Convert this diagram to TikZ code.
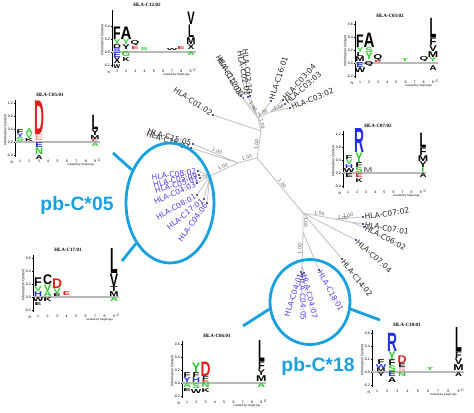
\documentclass[tikz,border=0pt]{standalone}
\usepackage{fontspec}
\setmainfont{Liberation Serif}
\setsansfont{Liberation Sans}
\newfontfamily\treefont{DejaVu Sans}
\usepackage{tikz}
\usetikzlibrary{shapes.geometric}

\definecolor{pbblue}{RGB}{25,160,225}
\definecolor{branchgray}{RGB}{195,195,195}
\definecolor{leafblue}{RGB}{85,60,230}
\definecolor{dotnavy}{RGB}{25,25,110}
\definecolor{logored}{RGB}{225,30,30}
\definecolor{loggreen}{RGB}{40,205,40}
\definecolor{logoblue}{RGB}{35,45,225}

\tikzset{
  branch/.style={draw=branchgray, line width=0.5pt},
  tip/.style={circle, fill=dotnavy, inner sep=0pt, minimum size=1.4pt},
  leaf/.style={font=\treefont\fontsize{4.3}{5}\selectfont, text=black!85, inner sep=0.8pt},
  leafb/.style={leaf, text=leafblue},
  bl/.style={font=\treefont\fontsize{2.6}{3}\selectfont, text=black!65, inner sep=0.3pt, sloped, above},
  group/.style={draw=pbblue, line width=1.6pt},
  grouplab/.style={font=\sffamily\bfseries\fontsize{11}{13}\selectfont, text=pbblue},
  lt/.style={inner sep=0pt, anchor=south, font=\sffamily\bfseries\fontsize{10}{10}\selectfont},
  logotitle/.style={font=\rmfamily\bfseries\fontsize{2.8}{3}\selectfont},
  ticklab/.style={font=\sffamily\fontsize{2}{2}\selectfont, inner sep=0.4pt},
  logoaxis/.style={line width=0.25pt},
}

\newcounter{glyphno}
% name, axis x, zero y, column step, title, ticks from the bottom
\newcommand{\logoframe}[6]{%
  \node[logotitle] (#1title) at ({#2+35},{#3-47}) {#5};
  \draw[logoaxis] (#2,{#3-42}) -- (#2,{#3+15});
  \foreach \t [count=\i] in {#6}
    \draw[logoaxis] (#2,{#3+13-13*(\i-1)}) -- ++(-1.2,0) node[ticklab, anchor=east] (#1y\i) {\t};
  \node[ticklab, rotate=90] (#1ylab) at ({#2-10},{#3-12}) {Information Content};
  \foreach \k in {1,...,9}
    \node[ticklab] (#1k\k) at ({#2+5+#4*(\k-1)},{#3+19}) {\k};
  \node[ticklab] (#1n) at ({#2-3},{#3+20}) {N};
  \node[ticklab] (#1c) at ({#2+9+#4*8},{#3+18}) {C};
  \node[ticklab, font=\sffamily\fontsize{1.6}{2}\selectfont] (#1by) at ({#2+#4*7},{#3+23}) {created by Seq2Logo};
  \draw[gray!55, line width=0.7pt] (#2,#3) -- ({#2+10+#4*8},#3);
}
% x, base y, height, width, colour, letter
\newcommand{\glyph}[6]{%
  \stepcounter{glyphno}%
  \pgfmathsetmacro\gh{#3/12.6}\pgfmathsetmacro\gw{#4/12.7}%
  \node[lt, text=#5] (g\arabic{glyphno}) at (#1,#2) {\scalebox{\gw}[\gh]{#6}};%
}

\begin{document}
\begin{tikzpicture}[x=0.02cm, y=-0.02cm]
\useasboundingbox (0,0) rectangle (474,413);

% logos
\logoframe{lgA}{112}{52}{9.2}{HLA-C12:02}{-0.2,0.0,0.2,0.4}
\glyph{117}{40}{13}{9}{black}{F}
\glyph{117}{45}{5}{7}{loggreen}{Y}
\glyph{117}{49}{4}{8}{black}{D}
\glyph{117}{52}{3}{8}{logoblue}{S}
\glyph{117}{58}{5}{8}{logoblue}{E}
\glyph{117}{64}{6}{7}{black}{X}
\glyph{117}{69}{4}{5}{black}{W}
\glyph{126}{40}{13}{11}{black}{A}
\glyph{126}{45}{5}{7}{loggreen}{Y}
\glyph{126}{50}{5}{8}{black}{Y}
\glyph{126}{57}{5}{8}{loggreen}{G}
\glyph{126}{62}{4}{7}{black}{K}
\glyph{135}{46}{4}{8}{black}{Q}
\glyph{135}{50}{3}{8}{logored}{E}
\glyph{144}{51}{3}{8}{loggreen}{S}
\glyph{172}{51}{2}{8}{black}{W}
\glyph{181}{50}{3}{8}{logored}{E}
\glyph{191}{25}{13}{8}{black}{V}
\glyph{191}{38}{13}{7}{black}{L}
\glyph{191}{45}{7}{8}{black}{M}
\glyph{191}{50}{5}{7}{black}{X}
\glyph{191}{56}{4}{7}{loggreen}{A}

\logoframe{lgB}{355}{63}{9.1}{HLA-C03:02}{-0.2,0.0,0.2,0.4,0.6}
\glyph{360}{48}{13}{9}{black}{F}
\glyph{360}{53}{5}{7}{loggreen}{Y}
\glyph{360}{57}{4}{8}{black}{L}
\glyph{360}{62}{5}{8}{black}{M}
\glyph{360}{68}{5}{8}{logoblue}{E}
\glyph{360}{73}{5}{8}{black}{W}
\glyph{369}{48}{15}{11}{black}{A}
\glyph{369}{53}{5}{8}{loggreen}{S}
\glyph{369}{60}{7}{8}{loggreen}{Y}
\glyph{369}{67}{4}{8}{black}{Q}
\glyph{378}{61}{5}{8}{black}{Q}
\glyph{378}{63}{2}{8}{logored}{E}
\glyph{405}{62}{3}{8}{loggreen}{T}
\glyph{424}{62}{4}{8}{black}{Q}
\glyph{433}{38}{20}{8}{black}{L}
\glyph{433}{46}{8}{8}{black}{F}
\glyph{433}{52}{6}{8}{black}{V}
\glyph{433}{58}{6}{9}{black}{M}
\glyph{433}{62}{4}{8}{loggreen}{Y}
\glyph{433}{71}{5}{7}{black}{A}

\logoframe{lgC}{15}{142}{9.4}{HLA-C05:01}{-0.4,0.0,0.4,0.8,1.2}
\glyph{39}{135}{35}{10}{logored}{D}
\glyph{39}{141}{6}{9}{logored!45}{E}
\glyph{39}{148}{5}{8}{logoblue}{E}
\glyph{39}{155}{7}{8}{loggreen}{N}
\glyph{39}{160}{4}{7}{black}{A}
\glyph{20}{134}{4}{8}{black}{F}
\glyph{20}{138}{4}{7}{logoblue}{Y}
\glyph{20}{142}{4}{8}{loggreen}{S}
\glyph{29}{134}{5}{7}{loggreen}{A}
\glyph{29}{139}{5}{7}{loggreen}{V}
\glyph{29}{142}{3}{8}{black}{K}
\glyph{95}{130}{15}{8}{black}{L}
\glyph{95}{136}{6}{8}{black}{Y}
\glyph{95}{140}{4}{8}{black}{M}
\glyph{95}{142}{2}{8}{logored}{F}
\glyph{95}{147}{4}{7}{loggreen}{A}

\logoframe{lgD}{343}{173}{9.1}{HLA-C07:02}{-0.4,0.0,0.4,0.8,1.2}
\glyph{359}{153}{25}{10}{logoblue}{R}
\glyph{359}{163}{10}{8}{loggreen}{Y}
\glyph{359}{168}{5}{8}{black}{F}
\glyph{359}{173}{5}{8}{loggreen}{S}
\glyph{359}{178}{4}{8}{logored}{E}
\glyph{359}{183}{4}{7}{black}{K}
\glyph{349}{160}{4}{8}{black}{F}
\glyph{349}{165}{5}{7}{loggreen}{V}
\glyph{349}{169}{4}{8}{logoblue}{H}
\glyph{349}{173}{4}{8}{black}{W}
\glyph{349}{178}{4}{8}{black}{E}
\glyph{368}{173}{5}{8}{gray}{M}
\glyph{423}{148}{15}{8}{black}{L}
\glyph{423}{156}{8}{8}{black}{F}
\glyph{423}{162}{6}{9}{black}{M}
\glyph{423}{168}{6}{8}{black}{Y}
\glyph{423}{173}{5}{8}{loggreen}{I}
\glyph{423}{178}{4}{7}{black}{A}

\logoframe{lgE}{33}{297}{9.5}{HLA-C17:01}{-0.2,0.0,0.2,0.4,0.6}
\glyph{38}{287}{9}{9}{black}{F}
\glyph{38}{292}{5}{8}{loggreen}{V}
\glyph{38}{297}{5}{8}{logoblue}{H}
\glyph{38}{302}{4}{8}{black}{W}
\glyph{38}{306}{3}{7}{black}{E}
\glyph{47.5}{285}{10}{9}{black}{C}
\glyph{47.5}{292}{7}{8}{loggreen}{V}
\glyph{47.5}{297}{5}{8}{loggreen}{A}
\glyph{47.5}{302}{4}{8}{black}{K}
\glyph{57}{289}{10}{10}{logored}{D}
\glyph{57}{294}{5}{8}{loggreen}{V}
\glyph{57}{297}{3}{8}{black}{E}
\glyph{66.5}{296}{4}{8}{logored}{E}
\glyph{114}{274}{26}{9}{black}{L}
\glyph{114}{287}{13}{9}{black}{V}
\glyph{114}{292}{5}{9}{black}{T}
\glyph{114}{297}{5}{8}{black}{M}
\glyph{114}{302}{4}{8}{loggreen}{A}

\logoframe{lgF}{182}{383}{9.3}{HLA-C06:01}{-0.2,0.0,0.2,0.4,0.6}
\glyph{196}{373}{10}{9}{loggreen}{Y}
\glyph{196}{378}{5}{8}{black}{F}
\glyph{196}{383}{5}{8}{logoblue}{H}
\glyph{196}{389}{5}{8}{loggreen}{S}
\glyph{196}{394}{4}{8}{black}{W}
\glyph{205.6}{377}{15}{10}{logored}{D}
\glyph{205.6}{381}{4}{8}{black}{F}
\glyph{205.6}{383}{2}{8}{logored}{E}
\glyph{205.6}{388}{5}{8}{loggreen}{N}
\glyph{205.6}{393}{4}{8}{black}{K}
\glyph{187}{378}{5}{8}{black}{F}
\glyph{187}{383}{5}{8}{logoblue}{Y}
\glyph{187}{388}{4}{8}{loggreen}{A}
\glyph{187}{392}{3}{8}{black}{E}
\glyph{261.4}{362}{22}{8}{black}{L}
\glyph{261.4}{370}{8}{8}{black}{F}
\glyph{261.4}{376}{6}{8}{black}{Y}
\glyph{261.4}{382}{6}{9}{black}{M}
\glyph{261.4}{388}{4}{8}{loggreen}{A}

\logoframe{lgG}{372}{372}{10.2}{HLA-C18:01}{-0.2,0.0,0.2,0.4,0.6}
\glyph{392}{352}{19}{10}{logoblue}{R}
\glyph{392}{360}{8}{8}{loggreen}{Y}
\glyph{392}{366}{6}{8}{black}{F}
\glyph{392}{372}{6}{8}{loggreen}{S}
\glyph{392}{377}{5}{8}{logoblue}{E}
\glyph{392}{383}{5}{8}{black}{A}
\glyph{402}{364}{8}{9}{logored}{D}
\glyph{402}{368}{4}{8}{black}{E}
\glyph{402}{372}{4}{8}{logored!50}{S}
\glyph{402}{377}{4}{8}{loggreen}{N}
\glyph{381}{365}{5}{8}{black}{F}
\glyph{381}{369}{4}{8}{logoblue}{W}
\glyph{381}{372}{3}{8}{black}{M}
\glyph{381}{377}{4}{7}{black}{Y}
\glyph{430}{371}{3}{8}{loggreen}{T}
\glyph{458.5}{352}{25}{8}{black}{L}
\glyph{458.5}{359}{7}{8}{black}{F}
\glyph{458.5}{365}{6}{8}{black}{V}
\glyph{458.5}{371}{6}{9}{black}{M}
\glyph{458.5}{377}{4}{7}{black}{A}

% tree: inner points
\coordinate (A) at (257,158);
\coordinate (U1) at (261,131);
\coordinate (U2) at (258,118);
\coordinate (U3) at (270,112);
\coordinate (L1) at (238,163);
\coordinate (L2) at (210,176);
\coordinate (R1) at (303,213);
\coordinate (R2) at (335,219);
\coordinate (R3) at (350,222);
\coordinate (R5) at (303,232);
\coordinate (R4) at (302,266);

% tree: tips
\node[tip] (C0102) at (213,115) {};
\node[tip] (C1202) at (243,98) {};
\node[tip] (C1203) at (241,96) {};
\node[tip] (C0202) at (248,97) {};
\node[tip] (C0210) at (250,96) {};
\node[tip] (C1601) at (271,101) {};
\node[tip] (C0304) at (283,100) {};
\node[tip] (C0303) at (285,104) {};
\node[tip] (C0302) at (290,108) {};
\node[tip] (C1505) at (193,144) {};
\node[tip] (C1502) at (191,148) {};
\node[tip] (C0802) at (198,171) {};
\node[tip] (C0509) at (199,175) {};
\node[tip] (C0501) at (200,178) {};
\node[tip] (C0403) at (197,183) {};
\node[tip] (C0801) at (197,195) {};
\node[tip] (C1701) at (204,199) {};
\node[tip] (C0406) at (207,203) {};
\node[tip] (C0702) at (363,217) {};
\node[tip] (C0701) at (363,224) {};
\node[tip] (C0602) at (364,227) {};
\node[tip] (C0704) at (356,240) {};
\node[tip] (C1402) at (342,259) {};
\node[tip] (C1801) at (319,270) {};
\node[tip] (C0401) at (301,272) {};
\node[tip] (C0405) at (302,274) {};
\node[tip] (C0407) at (304,273) {};

% tree: branches
\draw[branch] (A) -- node[bl]{1.00} (U1) -- node[bl]{1.00} (U2);
\draw[branch] (U1) -- (C0102);
\draw[branch] (U2) -- node[bl]{1.00} (C1202) (U2) -- (C1203) (U2) -- (C0202) (U2) -- (C0210) (U2) -- (C1601);
\draw[branch] (U2) -- node[bl]{1.00} (U3) -- (C0304) (U3) -- (C0303) (U3) -- node[bl]{1.00} (C0302);
\draw[branch] (A) -- node[bl]{1.00} (L1) -- node[bl]{1.00} (C1505) (L1) -- (C1502);
\draw[branch] (L1) -- node[bl]{1.00} (L2);
\draw[branch] (L2) -- (C0802) (L2) -- (C0509) (L2) -- (C0501) (L2) -- (C0403) (L2) -- (C0801) (L2) -- (C1701) (L2) -- (C0406);
\draw[branch] (A) -- node[bl]{1.00} (R1) -- node[bl]{1.00} (R2) -- node[bl]{1.00} (C0702) (R2) -- node[bl]{1.00} (R3) -- (C0701) (R3) -- (C0602);
\draw[branch] (R1) -- (C0704) (R1) -- (C1402);
\draw[branch] (R1) -- node[bl]{1.00} (R5) -- (C1801) (R5) -- node[bl]{1.00} (R4) -- (C0401) (R4) -- (C0405) (R4) -- (C0407);

% tree: leaf names
\node[leaf, rotate=-34, anchor=east] (tC0102) at (C0102) {HLA-C01:02};
\node[leaf, rotate=-60, anchor=east] (tC1202) at (C1202) {HLA-C12:02};
\node[leaf, rotate=-60, anchor=east] (tC1203) at (C1203) {HLA-C12:03};
\node[leaf, rotate=-80, anchor=east] (tC0202) at (C0202) {HLA-C02:02};
\node[leaf, rotate=-84, anchor=east] (tC0210) at (C0210) {HLA-C02:10};
\node[leaf, rotate=72, anchor=west] (tC1601) at (C1601) {HLA-C16:01};
\node[leaf, rotate=48, anchor=west] (tC0304) at (C0304) {HLA-C03:04};
\node[leaf, rotate=41, anchor=west] (tC0303) at (C0303) {HLA-C03:03};
\node[leaf, rotate=22, anchor=west] (tC0302) at (C0302) {HLA-C03:02};
\node[leaf, rotate=-16, anchor=east] (tC1505) at (C1505) {HLA-C15:05};
\node[leaf, rotate=-18, anchor=east] (tC1502) at (C1502) {HLA-C15:02};
\node[leafb, rotate=8, anchor=east] (tC0802) at (C0802) {HLA-C08:02};
\node[leafb, rotate=12, anchor=east] (tC0509) at (C0509) {HLA-C05:09};
\node[leafb, rotate=16, anchor=east] (tC0501) at (C0501) {HLA-C05:01};
\node[leafb, rotate=24, anchor=east] (tC0403) at (C0403) {HLA-C04:03};
\node[leafb, rotate=30, anchor=east] (tC0801) at (C0801) {HLA-C08:01};
\node[leafb, rotate=39, anchor=east] (tC1701) at (C1701) {HLA-C17:01};
\node[leafb, rotate=54, anchor=east] (tC0406) at (C0406) {HLA-C04:06};
\node[leaf, rotate=8, anchor=west] (tC0702) at (C0702) {HLA-C07:02};
\node[leaf, rotate=-10, anchor=west] (tC0701) at (C0701) {HLA-C07:01};
\node[leaf, rotate=-27, anchor=west] (tC0602) at (C0602) {HLA-C06:02};
\node[leaf, rotate=-42, anchor=west] (tC0704) at (C0704) {HLA-C07:04};
\node[leaf, rotate=-52, anchor=west] (tC1402) at (C1402) {HLA-C14:02};
\node[leafb, rotate=-61, anchor=west] (tC1801) at (C1801) {HLA-C18:01};
\node[leafb, rotate=-76, anchor=west] (tC0407) at (C0407) {HLA-C04:07};
\node[leafb, rotate=-88, anchor=west] (tC0405) at (C0405) {HLA-C04:05};
\node[leafb, rotate=72, anchor=east] (tC0401) at (C0401) {HLA-C04:01};

% groups
\node[group, ellipse, inner sep=0pt, minimum width=1.76cm, minimum height=2.4cm] (grp05) at (170,203) {};
\node[group, ellipse, inner sep=0pt, minimum width=1.6cm, minimum height=1.7cm] (grp18) at (310,302) {};
\coordinate (e05a) at (113,153);
\coordinate (e05b) at (122,261);
\coordinate (e18a) at (380,320);
\coordinate (e18b) at (243,326);
\draw[group] (grp05.139) -- (e05a);
\draw[group] (grp05.230) -- (e05b);
\draw[group] (grp18.-10) -- (e18a);
\draw[group] (grp18.190) -- (e18b);
\node[grouplab] (pb05) at (77,205) {pb-C*05};
\node[grouplab] (pb18) at (318,366) {pb-C*18};
\end{tikzpicture}
\end{document}
